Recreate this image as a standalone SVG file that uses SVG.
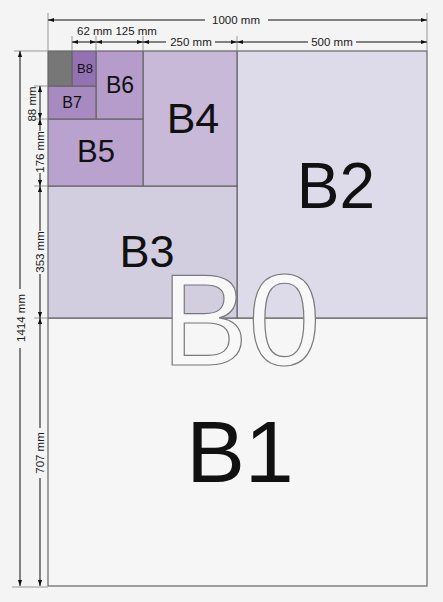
<svg xmlns="http://www.w3.org/2000/svg" width="443" height="602" viewBox="0 0 443 602">
<defs>
<marker id="ah" viewBox="0 0 10 10" refX="10" refY="5" markerWidth="6" markerHeight="6" orient="auto-start-reverse" markerUnits="userSpaceOnUse">
<path d="M0,1.5 L10,5 L0,8.5 Z" fill="#111"/>
</marker>
<style>
.sheet{stroke:#666;stroke-width:1.2}
.lbl{font-family:"Liberation Sans",Arial,sans-serif;fill:#111;text-anchor:middle}
.dim{font-family:"Liberation Sans",Arial,sans-serif;font-size:11.5px;fill:#1a1a1a;text-anchor:middle}
.dl{stroke:#111;stroke-width:1;fill:none;marker-start:url(#ah);marker-end:url(#ah)}
.half{stroke:#111;stroke-width:1;fill:none;marker-end:url(#ah)}
.ext{stroke:#999;stroke-width:1}
</style>
</defs>
<rect x="0" y="0" width="443" height="602" fill="#f4f4f4"/>

<g id="B1"><rect class="sheet" x="48" y="318" width="379" height="268" fill="#f6f6f6"/>
<text class="lbl" x="240" y="482" font-size="88">B1</text></g>
<g id="B2"><rect class="sheet" x="237" y="51" width="190" height="267" fill="#dddbe9"/>
<text class="lbl" x="336" y="208" font-size="64">B2</text></g>
<g id="B3"><rect class="sheet" x="48" y="186" width="189" height="132" fill="#d3cde0"/>
<text class="lbl" x="147" y="267" font-size="45">B3</text></g>
<g id="B4"><rect class="sheet" x="143" y="51" width="94" height="135" fill="#c8b9d8"/>
<text class="lbl" x="193" y="133" font-size="43">B4</text></g>
<g id="B5"><rect class="sheet" x="48" y="119" width="95" height="67" fill="#b9a2cd"/>
<text class="lbl" x="96" y="162" font-size="31">B5</text></g>
<g id="B6"><rect class="sheet" x="96" y="51" width="47" height="68" fill="#b69ccb"/>
<text class="lbl" x="120" y="93" font-size="23">B6</text></g>
<g id="B7"><rect class="sheet" x="48" y="86" width="48" height="33" fill="#a78ac0"/>
<text class="lbl" x="72" y="108" font-size="16">B7</text></g>
<g id="B8"><rect class="sheet" x="72" y="51" width="24" height="35" fill="#9471b3"/>
<text class="lbl" x="85" y="73" font-size="13">B8</text></g>
<g id="B9"><rect class="sheet" x="48" y="51" width="24" height="35" fill="#777"/></g>

<g id="B0"><text x="241" y="365" font-family="Liberation Sans,Arial,sans-serif" font-size="130" text-anchor="middle" fill="#f8f8f8" stroke="#7a7a7a" stroke-width="1.2">B0</text></g>

<g id="connectors">
<line class="ext" x1="48" y1="13" x2="48" y2="51"/>
<line class="ext" x1="427" y1="13" x2="427" y2="51"/>
<line class="ext" x1="72" y1="36" x2="72" y2="51"/>
<line class="ext" x1="96" y1="36" x2="96" y2="51"/>
<line class="ext" x1="143" y1="36" x2="143" y2="51"/>
<line class="ext" x1="237" y1="36" x2="237" y2="51"/>
<line class="ext" x1="14" y1="51" x2="48" y2="51"/>
<line class="ext" x1="34" y1="86" x2="48" y2="86"/>
<line class="ext" x1="34" y1="119" x2="48" y2="119"/>
<line class="ext" x1="34" y1="186" x2="48" y2="186"/>
<line class="ext" x1="34" y1="318" x2="48" y2="318"/>
<line class="ext" x1="12" y1="587" x2="48" y2="587"/>
<line class="half" x1="205" y1="20" x2="48" y2="20"/>
<line class="half" x1="268" y1="20" x2="427" y2="20"/>
<line class="dl" x1="72" y1="42" x2="96" y2="42"/>
<line class="dl" x1="96" y1="42" x2="143" y2="42"/>
<line class="half" x1="166" y1="42" x2="143" y2="42"/>
<line class="half" x1="215" y1="42" x2="237" y2="42"/>
<line class="half" x1="308" y1="42" x2="237" y2="42"/>
<line class="half" x1="356" y1="42" x2="427" y2="42"/>
<line class="half" x1="20" y1="289" x2="20" y2="51"/>
<line class="half" x1="20" y1="348" x2="20" y2="586"/>
<line class="dl" x1="40" y1="86" x2="40" y2="119"/>
<line class="half" x1="40" y1="131" x2="40" y2="119"/>
<line class="half" x1="40" y1="173" x2="40" y2="186"/>
<line class="half" x1="40" y1="231" x2="40" y2="186"/>
<line class="half" x1="40" y1="274" x2="40" y2="318"/>
<line class="half" x1="40" y1="428" x2="40" y2="318"/>
<line class="half" x1="40" y1="478" x2="40" y2="586"/>
</g>

<g id="labels">
<text class="dim" x="236" y="24">1000 mm</text>
<text class="dim" x="117" y="35">62 mm 125 mm</text>
<text class="dim" x="191" y="46">250 mm</text>
<text class="dim" x="332" y="46">500 mm</text>
<text class="dim" transform="translate(25,318) rotate(-90)">1414 mm</text>
<text class="dim" transform="translate(36,104) rotate(-90)">88 mm</text>
<text class="dim" transform="translate(44,152) rotate(-90)">176 mm</text>
<text class="dim" transform="translate(44,252) rotate(-90)">353 mm</text>
<text class="dim" transform="translate(44,453) rotate(-90)">707 mm</text>
</g>
</svg>
